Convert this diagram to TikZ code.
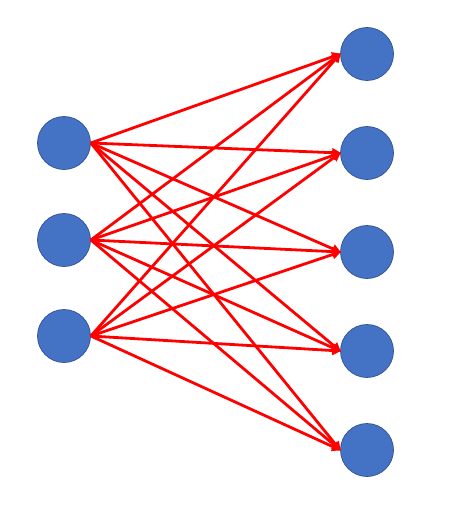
\documentclass[tikz,border=0pt]{standalone}
\usepackage{tikz}
\usetikzlibrary{arrows.meta}
\definecolor{unitblue}{RGB}{68,114,196}
\definecolor{unitedge}{RGB}{47,82,143}

\begin{document}
\begin{tikzpicture}[x=1pt, y=-1pt,
		unit/.style={circle, fill=unitblue, draw=unitedge, line width=0.7pt, minimum size=53pt, inner sep=0pt},
		link/.style={red, line width=2.8pt, -{Triangle[length=9pt, width=9pt]}, shorten >=-1pt}]
			%%%%% START %%%%%
			
			\useasboundingbox (0, 0) rectangle (450, 511);
			
			\node[unit] (in1) at (64, 143) {};
			\node[unit] (in2) at (64, 240) {};
			\node[unit] (in3) at (64, 336) {};
			
			\node[unit] (out1) at (367, 54) {};
			\node[unit] (out2) at (367, 153) {};
			\node[unit] (out3) at (367, 252) {};
			\node[unit] (out4) at (367, 351) {};
			\node[unit] (out5) at (367, 450) {};
			
			\draw[link] (in1.east) -- (out1.west);
			\draw[link] (in1.east) -- (out2.west);
			\draw[link] (in1.east) -- (out3.west);
			\draw[link] (in1.east) -- (out4.west);
			\draw[link] (in1.east) -- (out5.west);
			
			\draw[link] (in2.east) -- (out1.west);
			\draw[link] (in2.east) -- (out2.west);
			\draw[link] (in2.east) -- (out3.west);
			\draw[link] (in2.east) -- (out4.west);
			\draw[link] (in2.east) -- (out5.west);
			
			\draw[link] (in3.east) -- (out1.west);
			\draw[link] (in3.east) -- (out2.west);
			\draw[link] (in3.east) -- (out3.west);
			\draw[link] (in3.east) -- (out4.west);
			\draw[link] (in3.east) -- (out5.west);
			
			%%%%% END %%%%%
		\end{tikzpicture}
\end{document}
